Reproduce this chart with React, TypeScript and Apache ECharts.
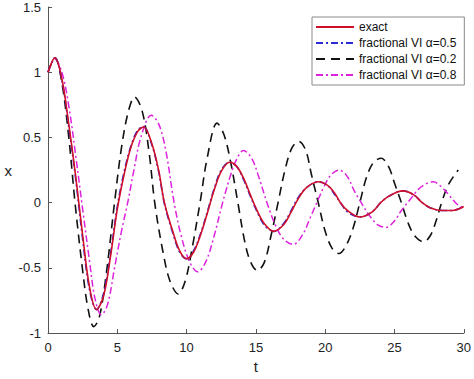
import React, { useEffect, useRef } from "react";
import * as echarts from "echarts";

const exactT = [0, 0.5, 1.0, 1.5, 2.0, 2.5, 3.0, 3.5, 4.0, 4.5, 5.0, 5.5, 6.0, 6.5, 6.9, 7.5, 8.0, 8.4, 9.0, 9.5, 10.0, 10.5, 11.0, 11.5, 12.0, 12.5, 13.1, 13.6, 14.1, 14.6, 15.0, 15.6, 16.3, 17.0, 17.5, 18.0, 18.6, 19.5, 20.2, 20.7, 21.1, 21.6, 22.5, 23.4, 24.0, 24.6, 25.6, 26.4, 27.0, 27.6, 28.5, 29.2, 30.0];
const exactX = [1.0, 1.11, 0.95, 0.6, 0.2, -0.25, -0.65, -0.82, -0.72, -0.42, -0.05, 0.22, 0.43, 0.55, 0.58, 0.45, 0.24, 0.0, -0.22, -0.37, -0.43, -0.38, -0.25, -0.08, 0.1, 0.24, 0.31, 0.28, 0.19, 0.06, -0.04, -0.16, -0.22, -0.17, -0.08, 0.02, 0.11, 0.16, 0.13, 0.07, 0.0, -0.06, -0.11, -0.07, 0.0, 0.05, 0.09, 0.06, 0.0, -0.04, -0.06, -0.06, -0.03];

const a05T = [0, 0.5, 1.0, 1.5, 2.0, 2.5, 3.0, 3.5, 4.0, 4.5, 5.0, 5.5, 6.0, 6.5, 6.9, 7.5, 8.0, 8.4, 9.0, 9.5, 10.0, 10.5, 11.0, 11.5, 12.0, 12.5, 13.1, 13.6, 14.1, 14.6, 15.0, 15.6, 16.3, 17.0, 17.5, 18.0, 18.6, 19.5, 20.2, 20.7, 21.1, 21.6, 22.5, 23.4, 24.0, 24.6, 25.6, 26.4, 27.0, 27.6, 28.5, 29.2, 30.0];
const a05X = [1.0, 1.11, 0.94, 0.58, 0.18, -0.28, -0.67, -0.82, -0.7, -0.4, -0.03, 0.24, 0.44, 0.56, 0.58, 0.44, 0.23, -0.01, -0.23, -0.38, -0.43, -0.37, -0.24, -0.07, 0.11, 0.25, 0.31, 0.28, 0.18, 0.05, -0.05, -0.17, -0.22, -0.16, -0.07, 0.03, 0.11, 0.16, 0.13, 0.06, 0.0, -0.07, -0.11, -0.07, 0.0, 0.05, 0.09, 0.06, 0.0, -0.04, -0.06, -0.06, -0.03];

const a02T = [0, 0.5, 1.0, 1.5, 1.95, 2.5, 2.9, 3.3, 3.7, 4.2, 4.8, 5.3, 5.8, 6.25, 6.8, 7.3, 7.7, 8.3, 8.8, 9.4, 9.9, 10.4, 11.0, 11.5, 12.2, 12.7, 13.2, 13.7, 14.2, 14.6, 15.1, 15.6, 16.1, 16.6, 17.1, 17.6, 18.1, 18.6, 19.0, 19.5, 20.0, 20.5, 21.0, 21.5, 22.0, 22.5, 23.0, 23.5, 24.05, 24.6, 25.0, 25.5, 26.0, 26.5, 27.1, 27.6, 28.0, 28.4, 28.9, 29.6];
const a02X = [1.0, 1.11, 0.92, 0.5, 0.0, -0.52, -0.82, -0.95, -0.88, -0.55, 0.0, 0.42, 0.7, 0.81, 0.7, 0.38, 0.0, -0.38, -0.6, -0.7, -0.6, -0.35, 0.02, 0.35, 0.61, 0.52, 0.3, 0.0, -0.3, -0.45, -0.52, -0.46, -0.25, 0.0, 0.25, 0.42, 0.47, 0.4, 0.22, 0.0, -0.22, -0.35, -0.39, -0.33, -0.2, 0.0, 0.2, 0.31, 0.34, 0.27, 0.15, 0.0, -0.16, -0.26, -0.3, -0.25, -0.14, 0.0, 0.14, 0.25];

const a08T = [0, 0.5, 1.0, 1.5, 2.0, 2.5, 3.0, 3.4, 3.85, 4.3, 4.8, 5.3, 5.75, 6.2, 6.7, 7.45, 8.0, 8.5, 9.1, 9.6, 10.2, 10.8, 11.4, 12.0, 12.6, 13.2, 13.6, 14.1, 14.7, 15.2, 15.8, 16.4, 17.0, 17.7, 18.4, 18.9, 19.4, 19.9, 20.4, 21.0, 21.6, 22.1, 22.6, 23.2, 23.8, 24.4, 25.0, 25.5, 26.1, 26.7, 27.2, 27.8, 28.4, 29.0, 29.5, 30.0];
const a08X = [1.0, 1.1, 1.0, 0.74, 0.36, -0.05, -0.45, -0.74, -0.86, -0.78, -0.5, -0.22, 0.0, 0.25, 0.5, 0.67, 0.6, 0.4, 0.0, -0.25, -0.45, -0.53, -0.45, -0.25, 0.0, 0.22, 0.33, 0.4, 0.34, 0.2, 0.0, -0.17, -0.28, -0.32, -0.24, -0.12, 0.0, 0.12, 0.21, 0.25, 0.2, 0.09, 0.0, -0.1, -0.17, -0.19, -0.14, -0.06, 0.02, 0.1, 0.14, 0.16, 0.12, 0.05, -0.01, -0.04];

const xTicks = { min: 0, max: 30, interval: 5 };
const yTicks = { min: -1, max: 1.5, interval: 0.5 };

const zip = (t: number[], v: number[]) => t.map((x, i) => [x, v[i]]);

export default function App() {
  const ref = useRef<HTMLDivElement>(null);
  useEffect(() => {
    if (!ref.current) return;
    const chart = echarts.init(ref.current, null, { renderer: "svg" });
    const font = "Liberation Sans, Arial, sans-serif";
    chart.setOption({
      animation: false,
      backgroundColor: "#ffffff",
      grid: { left: 48, top: 7, right: 8, bottom: 42, containLabel: false },
      legend: {
        orient: "vertical",
        left: 312,
        top: 17,
        padding: [4, 8, 4, 3],
        itemWidth: 38,
        itemHeight: 12,
        itemGap: 4,
        borderColor: "#8a8a8a",
        borderWidth: 1,
        backgroundColor: "#ffffff",
        itemStyle: { opacity: 0, borderWidth: 0 },
        textStyle: { fontFamily: font, fontSize: 12, color: "#111" },
        data: ["exact", "fractional VI α=0.5", "fractional VI α=0.2", "fractional VI α=0.8"],
      },
      xAxis: {
        type: "value",
        ...xTicks,
        name: "t",
        nameLocation: "middle",
        nameGap: 24,
        nameTextStyle: { fontFamily: font, fontSize: 15, color: "#222" },
        axisLine: { onZero: false, lineStyle: { color: "#555", width: 1 } },
        axisTick: { inside: true, length: 4, lineStyle: { color: "#555" } },
        axisLabel: { fontFamily: font, fontSize: 13, color: "#222", margin: 8 },
        splitLine: { show: false },
      },
      yAxis: {
        type: "value",
        ...yTicks,
        name: "x",
        nameLocation: "middle",
        nameRotate: 0,
        nameGap: 36,
        nameTextStyle: { fontFamily: font, fontSize: 15, color: "#222" },
        axisLine: { show: true, onZero: false, lineStyle: { color: "#555", width: 1 } },
        axisTick: { show: true, inside: true, length: 4, lineStyle: { color: "#555" } },
        axisLabel: { fontFamily: font, fontSize: 13, color: "#222", margin: 7 },
        splitLine: { show: false },
      },
      series: [
        {
          name: "fractional VI α=0.5",
          type: "line",
          data: zip(a05T, a05X),
          symbol: "none",
          smooth: 0.35,
          z: 3,
          color: "#2a2ad6",
          lineStyle: { color: "#2a2ad6", width: 1.6, type: [7, 3, 2, 3] },
        },
        {
          name: "exact",
          type: "line",
          data: zip(exactT, exactX),
          symbol: "none",
          smooth: 0.35,
          z: 4,
          color: "#d0102a",
          lineStyle: { color: "#d0102a", width: 1.6 },
        },
        {
          name: "fractional VI α=0.2",
          type: "line",
          data: zip(a02T, a02X),
          symbol: "none",
          smooth: 0.35,
          z: 2,
          color: "#111111",
          lineStyle: { color: "#111111", width: 1.6, type: [9, 6] },
        },
        {
          name: "fractional VI α=0.8",
          type: "line",
          data: zip(a08T, a08X),
          symbol: "none",
          smooth: 0.35,
          z: 2,
          color: "#dd22dd",
          lineStyle: { color: "#dd22dd", width: 1.5, type: [7, 3, 2, 3] },
        },
      ],
    });
    return () => chart.dispose();
  }, []);
  return <div ref={ref} style={{ width: 474, height: 379, position: "absolute", left: 0, top: 0 }} />;
}
